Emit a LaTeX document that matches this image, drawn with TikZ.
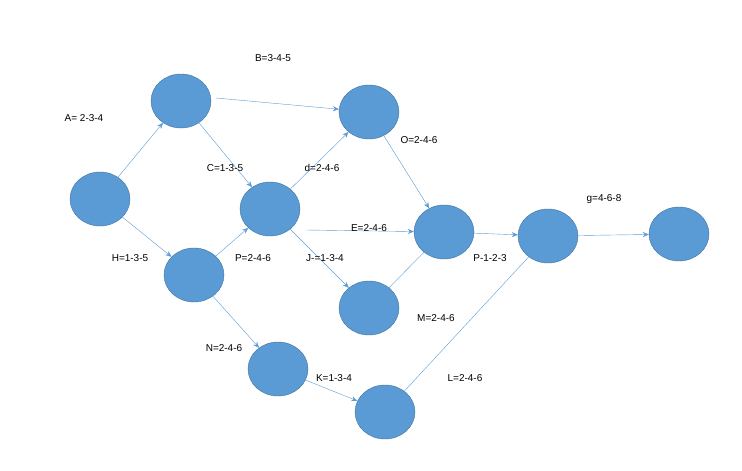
\documentclass[tikz,border=0pt]{standalone}
\usepackage{fontspec}
\setmainfont{Liberation Sans}
\usetikzlibrary{arrows.meta,shapes.geometric}
\definecolor{nfill}{HTML}{5B9BD5}
\definecolor{nedge}{HTML}{41719C}
\begin{document}
\begin{tikzpicture}[x=1pt,y=-1pt,
  ev/.style={ellipse,draw=nedge,fill=nfill,minimum width=60pt,minimum height=54pt,inner sep=0pt},
  arr/.style={draw=nfill,-{Stealth[length=6pt,width=5pt]}},
  ln/.style={draw=nfill},
  lab/.style={font=\fontsize{10}{12}\selectfont}]
\useasboundingbox (0,0) rectangle (742,471);
\node[ev] (n1) at (100,199) {};
\node[ev] (n2) at (181,101) {};
\node[ev] (n3) at (369,112) {};
\node[ev] (n4) at (270,209) {};
\node[ev] (n5) at (194,275) {};
\node[ev] (n6) at (444,232) {};
\node[ev] (n7) at (369,308) {};
\node[ev] (n8) at (278,369) {};
\node[ev] (n9) at (385,412) {};
\node[ev] (n10) at (548,236) {};
\node[ev] (n11) at (679,234) {};
\coordinate (c1) at (216,98);
\coordinate (c2) at (306,230);
\draw[arr] (n1) -- (n2);
\draw[arr] (n1) -- (n5);
\draw[arr] (c1) -- (n3);
\draw[arr] (n2) -- (n4);
\draw[arr] (n4) -- (n3);
\draw[arr] (n5) -- (n4);
\draw[arr] (c2) -- (n6);
\draw[arr] (n4) -- (n7);
\draw[arr] (n3) -- (n6);
\draw[arr] (n6) -- (n10);
\draw[ln] (n7) -- (n6);
\draw[arr] (n5) -- (n8);
\draw[arr] (n8) -- (n9);
\draw[ln] (n9) -- (n10);
\draw[arr] (n10) -- (n11);
\node[lab] (t1) at (273,58) {B=3-4-5};
\node[lab] (t2) at (84,118) {A= 2-3-4};
\node[lab] (t3) at (225,168) {C=1-3-5};
\node[lab] (t4) at (322,168) {d=2-4-6};
\node[lab] (t5) at (419,140) {O=2-4-6};
\node[lab] (t6) at (369,228) {E=2-4-6};
\node[lab] (t7) at (130,258) {H=1-3-5};
\node[lab] (t8) at (253,258) {P=2-4-6};
\node[lab] (t9) at (325,258) {J-=1-3-4};
\node[lab] (t10) at (490,258) {P-1-2-3};
\node[lab] (t11) at (604,199) {g=4-6-8};
\node[lab] (t12) at (436,318) {M=2-4-6};
\node[lab] (t13) at (224,348) {N=2-4-6};
\node[lab] (t14) at (334,378) {K=1-3-4};
\node[lab] (t15) at (465,378) {L=2-4-6};
\end{tikzpicture}
\end{document}
